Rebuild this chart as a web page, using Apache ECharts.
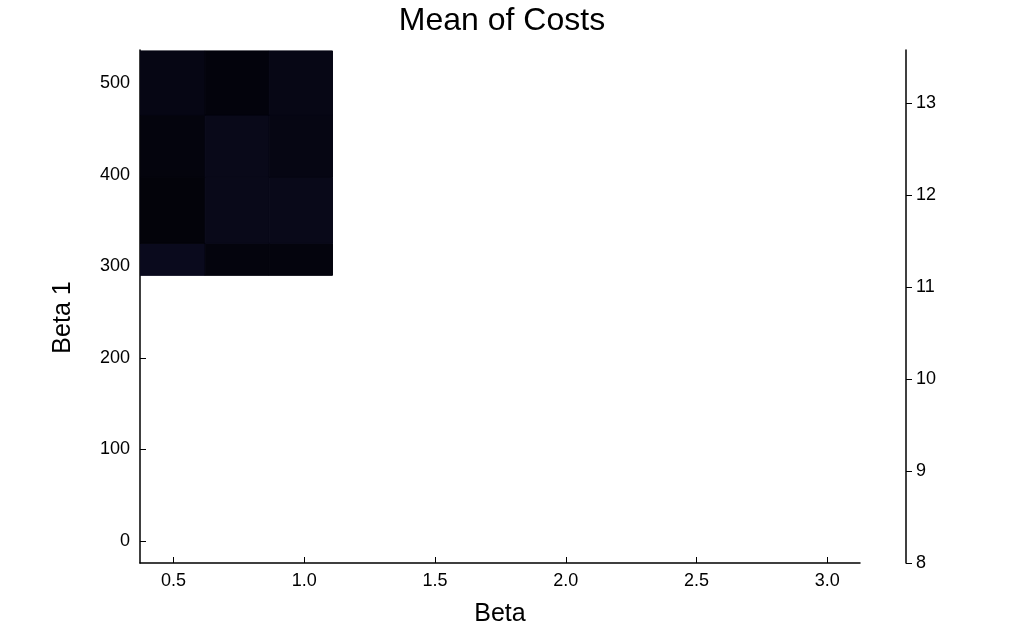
<!DOCTYPE html>
<html>
<head>
<meta charset="utf-8">
<script src="https://cdn.jsdelivr.net/npm/echarts@6/dist/echarts.min.js"></script>
<style>
html, body { margin: 0; padding: 0; background: #fff; }
#chart { width: 1024px; height: 634px; }
</style>
</head>
<body>
<div id="chart"></div>
<script>
// cell edges (Beta on x, Beta 1 on y)
var xEdges = [0.372, 0.621, 0.866, 1.108]
var yEdges = [290, 325, 397, 465, 535]
// mean cost per cell, rows bottom -> top, columns left -> right
var costs = [
    [8.48, 8.18, 8.18],
    [8.12, 8.40, 8.40],
    [8.17, 8.40, 8.28],
    [8.30, 8.15, 8.33]
]
var xTicks = [0.5, 1.0, 1.5, 2.0, 2.5, 3.0]
var yTicks = [0, 100, 200, 300, 400, 500]
var cbarMin = 8
var cbarMax = 13.58

var cells = []
for (var r = 0; r < costs.length; r++) {
    for (var c = 0; c < costs[r].length; c++) {
        cells.push([xEdges[c], xEdges[c + 1], yEdges[r], yEdges[r + 1], costs[r][c]])
    }
}

var font = 'Liberation Sans, Arial, sans-serif'
var dom = document.getElementById('chart')
var chart = echarts.init(dom)
var option = {
    animation: false,
    title: {
        text: 'Mean of Costs',
        left: 497,
        top: 0,
        textAlign: 'center',
        textStyle: { fontFamily: font, fontSize: 32, fontWeight: 'normal', color: '#000' }
    },
    grid: [
        { left: 140, right: 164, top: 50, bottom: 71 },
        { left: 906, width: 1, top: 50, bottom: 71 }
    ],
    visualMap: {
        show: false,
        min: cbarMin,
        max: cbarMax,
        dimension: 4,
        seriesIndex: 0,
        inRange: { color: ['#000004', '#18183e', '#4a2a80', '#b5467a', '#f08a3c', '#fcffa4'] }
    },
    xAxis: [{
        gridIndex: 0,
        type: 'value',
        min: 0.372,
        max: 3.125,
        name: 'Beta',
        nameLocation: 'middle',
        nameGap: 39,
        nameTextStyle: { fontFamily: font, fontSize: 25, color: '#000' },
        axisLine: { show: true, onZero: false, lineStyle: { color: '#000', width: 1.5 } },
        axisTick: { show: true, inside: true, length: 6, customValues: xTicks, lineStyle: { color: '#000' } },
        axisLabel: {
            customValues: xTicks,
            margin: 9,
            fontFamily: font, fontSize: 18, color: '#000',
            formatter: function (v) { return v.toFixed(1) }
        },
        splitLine: { show: false }
    }, {
        gridIndex: 1,
        type: 'value',
        show: false
    }],
    yAxis: [{
        gridIndex: 0,
        type: 'value',
        min: -24,
        max: 536,
        name: 'Beta 1',
        nameLocation: 'middle',
        nameGap: 64,
        nameTextStyle: { fontFamily: font, fontSize: 25, color: '#000', padding: [0, 22, 0, 0] },
        axisLine: { show: true, onZero: false, lineStyle: { color: '#000', width: 1.5 } },
        axisTick: { show: true, inside: true, length: 6, customValues: yTicks, lineStyle: { color: '#000' } },
        axisLabel: { customValues: yTicks, margin: 10, fontFamily: font, fontSize: 18, color: '#000' },
        splitLine: { show: false }
    }, {
        gridIndex: 1,
        type: 'value',
        position: 'right',
        min: cbarMin,
        max: cbarMax,
        interval: 1,
        axisLine: { show: true, lineStyle: { color: '#000', width: 1.5 } },
        axisTick: { show: true, length: 6, lineStyle: { color: '#000' } },
        axisLabel: {
            margin: 9, fontFamily: font, fontSize: 18, color: '#000',
            showMaxLabel: false,
            formatter: function (v) { return Number.isInteger(v) ? String(v) : '' }
        },
        splitLine: { show: false }
    }],
    series: [{
        type: 'custom',
        xAxisIndex: 0,
        yAxisIndex: 0,
        clip: true,
        encode: { x: [0, 1], y: [2, 3] },
        renderItem: function (params, api) {
            var p0 = api.coord([api.value(0), api.value(2)])
            var p1 = api.coord([api.value(1), api.value(3)])
            var col = api.visual('color')
            return {
                type: 'rect',
                shape: { x: p0[0], y: p1[1], width: p1[0] - p0[0], height: p0[1] - p1[1] },
                style: { fill: col, stroke: col, lineWidth: 1 }
            }
        },
        data: cells
    }]
}
chart.setOption(option)
</script>
</body>
</html>
